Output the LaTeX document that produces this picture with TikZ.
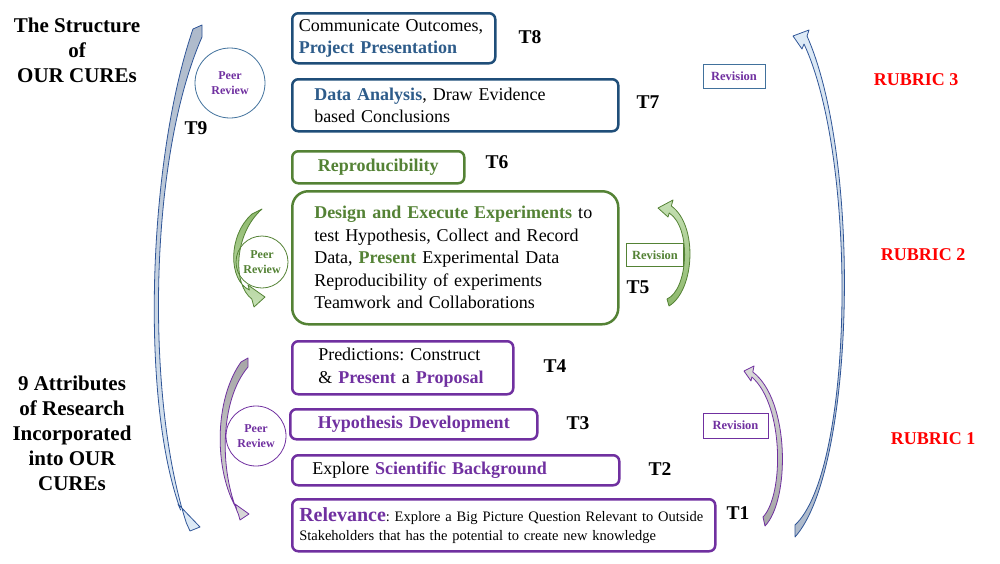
\documentclass[tikz,border=0pt]{standalone}
\usepackage{fontspec}
\setmainfont{Liberation Serif}
\frenchspacing
\definecolor{cureblue}{HTML}{1F4E79}
\definecolor{bluetext}{HTML}{2E5C8A}
\definecolor{bluering}{HTML}{41719C}
\definecolor{arrowblue}{HTML}{2F5597}
\definecolor{bluegrey}{HTML}{ADB9CA}
\definecolor{bluelight}{HTML}{DEEBF7}
\definecolor{curegreen}{HTML}{548235}
\definecolor{greenlight}{HTML}{C5E0B4}
\definecolor{greendark}{HTML}{8DB86B}
\definecolor{curepurple}{HTML}{7030A0}
\definecolor{purplegrey}{HTML}{A6A6A6}
\definecolor{purplelight}{HTML}{D9D9D9}
\newcommand{\hlblue}[1]{\textcolor{bluetext}{\textbf{#1}}}
\newcommand{\hlgreen}[1]{\textcolor{curegreen}{\textbf{#1}}}
\newcommand{\hlpurple}[1]{\textcolor{curepurple}{\textbf{#1}}}
\tikzset{
  stage/.style={draw, rounded corners=6pt, line width=2.5pt, anchor=north west, align=left, inner ysep=1pt, font=\fontsize{18}{22.5}\selectfont},
  peer/.style={circle, draw, line width=0.8pt, align=center, inner sep=0pt, font=\bfseries\fontsize{12}{15}\selectfont},
  revbox/.style={draw, line width=1pt, inner sep=0pt, font=\bfseries\fontsize{12.5}{14}\selectfont},
  tlab/.style={font=\bfseries\fontsize{19.5}{20}\selectfont},
  rubric/.style={text=red, font=\bfseries\fontsize{18}{20}\selectfont},
  title/.style={align=center, font=\bfseries\fontsize{21}{25}\selectfont},
  bluearrow/.style={draw=arrowblue, line width=0.8pt, line join=round},
  greenarrow/.style={draw=curegreen, line width=0.8pt, line join=round},
  purplearrow/.style={draw=curepurple, line width=0.8pt, line join=round}
}
\begin{document}
\begin{tikzpicture}[x=1pt,y=-1pt]
\useasboundingbox (0,0) rectangle (1000,563);

\path[bluearrow, top color=bluegrey, bottom color=bluelight]
  (193,29) .. controls (148,160) and (140,400) .. (180.6,510)
  -- (178,504) -- (200,527) -- (190,531) -- (186.4,523)
  .. controls (146,400) and (148,160) .. (202,37) -- (202,25) -- cycle;
\path[bluearrow, top color=bluelight, bottom color=bluegrey]
  (795,537) .. controls (855,470) and (862,160) .. (807,36)
  -- (809,30) -- (793,36) -- (802,49) -- (804,44)
  .. controls (858,160) and (854,470) .. (795,525) -- cycle;
\path[greenarrow, top color=greendark, bottom color=greenlight]
  (252,214) .. controls (228,235) and (228,280) .. (249.4,290)
  -- (248,285) -- (265,297) -- (254,307) -- (251.8,299)
  .. controls (233,285) and (233,235) .. (262,209) -- cycle;
\path[greenarrow, top color=greenlight, bottom color=greendark]
  (669,306) .. controls (695,290) and (698,225) .. (671.3,206)
  -- (673,200) -- (658,208) -- (668,217) -- (669.2,213)
  .. controls (692,228) and (688,290) .. (667,299) -- cycle;
\path[purplearrow, top color=purplegrey, bottom color=purplelight]
  (241,362) .. controls (214,400) and (214,470) .. (236.5,508.5)
  -- (235,504) -- (249,514) -- (240,520) -- (238.5,514.5)
  .. controls (219,470) and (220,400) .. (248,367) -- (248,358) -- cycle;
\path[purplearrow, top color=purplelight, bottom color=purplegrey]
  (765,526) .. controls (790,500) and (790,400) .. (752.8,372)
  -- (754,366) -- (744,371) -- (751,381) -- (751.8,377)
  .. controls (784,405) and (784,495) .. (763,517) -- cycle;

\node[title] (structure) at (77,50) {The Structure\\of\\OUR CUREs};
\node[title] (attributes) at (72,433) {9 Attributes\\of Research\\Incorporated\\into OUR\\CUREs};

\node[stage, draw=cureblue, text width=190pt, inner xsep=6.5pt, minimum height=50pt] (t8box) at (291,12) {Communicate Outcomes,\\\hlblue{Project Presentation}};
\node[stage, draw=cureblue, text width=282pt, inner xsep=22pt, minimum height=52pt] (t7box) at (291,78) {\hlblue{Data Analysis}, Draw Evidence\\based Conclusions};
\node[stage, draw=curegreen, text width=150pt, inner xsep=11pt, minimum height=32pt, align=center] (t6box) at (291,150) {\hlgreen{Reproducibility}};
\node[stage, draw=curegreen, rounded corners=16pt, text width=282pt, inner xsep=22pt, minimum height=133pt] (t5box) at (291,190) {\hlgreen{Design and Execute Experiments} to\\test Hypothesis, Collect and Record\\Data, \hlgreen{Present} Experimental Data\\Reproducibility of experiments\\Teamwork and Collaborations};
\node[stage, draw=curepurple, text width=169pt, inner xsep=26pt, minimum height=53pt] (t4box) at (291,340) {Predictions: Construct\\\& \hlpurple{Present} a \hlpurple{Proposal}};
\node[stage, draw=curepurple, text width=230pt, inner xsep=8.5pt, minimum height=30pt, align=center] (t3box) at (289,408) {\hlpurple{Hypothesis Development}};
\node[stage, draw=curepurple, text width=287pt, inner xsep=20pt, minimum height=30pt] (t2box) at (291,454) {Explore \hlpurple{Scientific Background}};
\node[stage, draw=curepurple, text width=409pt, inner xsep=7pt, minimum height=52pt, font=\fontsize{14.5}{19}\selectfont] (t1box) at (291,498) {{\fontsize{20}{19}\selectfont\hlpurple{Relevance}}: Explore a Big Picture Question Relevant to Outside\\Stakeholders that has the potential to create new knowledge};

\node[tlab] (t8) at (530,37) {T8};
\node[tlab] (t7) at (648,102) {T7};
\node[tlab] (t6) at (497,162) {T6};
\node[tlab] (t5) at (638,287) {T5};
\node[tlab] (t4) at (555,366) {T4};
\node[tlab] (t3) at (578,423) {T3};
\node[tlab] (t2) at (660,469) {T2};
\node[tlab] (t1) at (738,513) {T1};
\node[tlab] (t9) at (196,128) {T9};

\node[peer, draw=bluering, text=curepurple, minimum size=70pt] (peer3) at (230,83) {Peer\\Review};
\node[peer, draw=curegreen, text=curegreen, minimum size=52pt] (peer2) at (262,262) {Peer\\Review};
\node[peer, draw=curepurple, text=curepurple, minimum size=60pt] (peer1) at (256,436) {Peer\\Review};

\node[revbox, draw=bluering, text=curepurple, minimum width=62pt, minimum height=24pt] (rev3) at (734,76) {Revision};
\node[revbox, draw=curegreen, text=curegreen, minimum width=57pt, minimum height=23pt] (rev2) at (655,255) {Revision};
\node[revbox, draw=curepurple, text=curepurple, minimum width=65pt, minimum height=25pt] (rev1) at (735.5,425.5) {Revision};

\node[rubric] (rubric3) at (916,80) {RUBRIC 3};
\node[rubric] (rubric2) at (923,255) {RUBRIC 2};
\node[rubric] (rubric1) at (933,439) {RUBRIC 1};
\end{tikzpicture}
\end{document}
